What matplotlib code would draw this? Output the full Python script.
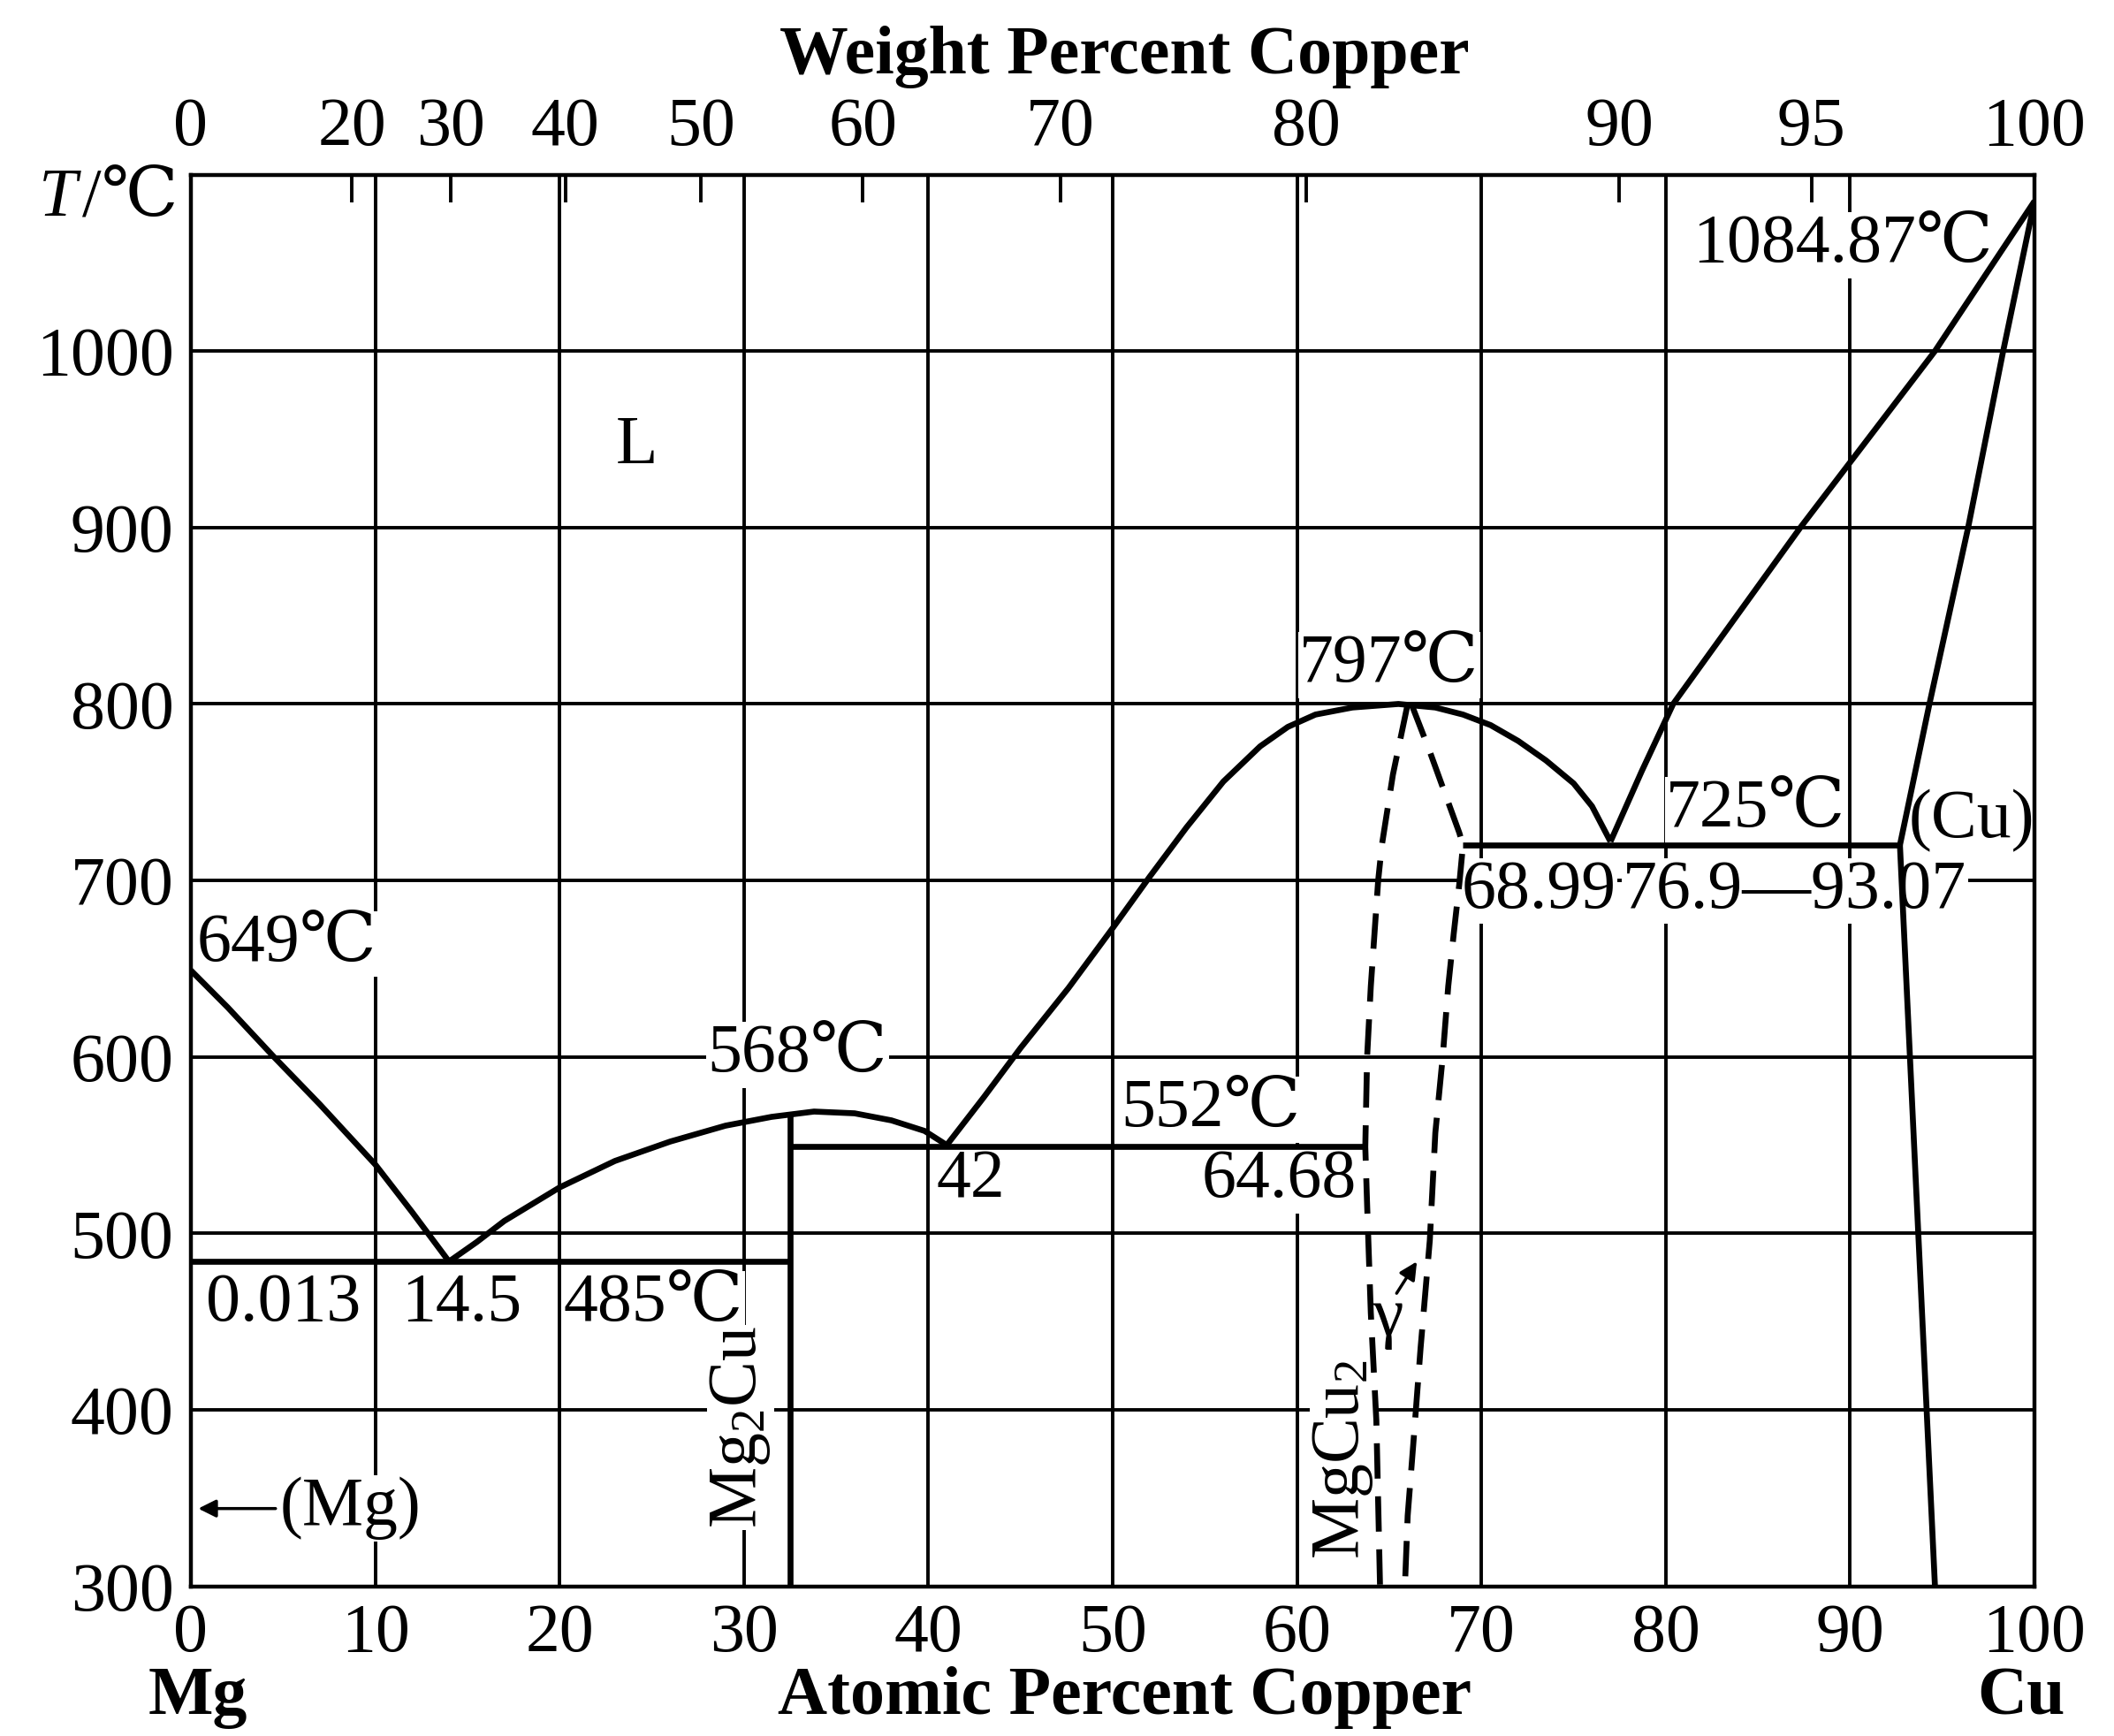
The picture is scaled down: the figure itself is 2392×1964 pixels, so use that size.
import matplotlib
matplotlib.use("Agg")
import matplotlib.pyplot as plt

plt.rcParams['font.family'] = ['Liberation Serif', 'DejaVu Serif', 'Noto Sans CJK SC']
plt.rcParams['mathtext.fontset'] = 'custom'
plt.rcParams['mathtext.rm'] = 'Liberation Serif'
plt.rcParams['mathtext.it'] = 'Liberation Serif:italic'

##### DATA (atomic % Cu, T in C) #####
mg_liq_x = [0, 2, 4.5, 7, 10, 12, 14]
mg_liq_t = [649, 628, 600, 573, 539, 512, 484]

mg2cu_liq_x = [14, 15.5, 17, 20, 23, 26, 29, 31.5, 33.8, 36, 38, 39.8, 41]
mg2cu_liq_t = [484, 495, 507, 526, 541, 552, 561, 566, 569, 568, 564, 558, 550]

mgcu2_liq_x = [41, 43, 45, 47.6, 50, 52, 54, 56, 58, 59.5, 61, 63, 65.5,
               67.5, 69, 70.5, 72, 73.5, 75, 76, 77]
mgcu2_liq_t = [550, 577, 605, 639, 673, 702, 730, 756, 776, 787, 794, 798, 800,
               798, 794, 788, 779, 768, 755, 742, 722]

cu_liq_x = [77, 78.7, 80.4, 87.3, 94.6, 100]
cu_liq_t = [722, 762, 800, 900, 1000, 1085]
cu_sol_x = [100, 98.3, 96.4, 94.3, 92.7]
cu_sol_t = [1085, 1000, 900, 800, 720]
cu_solvus_x = [92.7, 94.6]
cu_solvus_t = [720, 300]

eut1_x = [0, 32.5]
eut1_t = [484, 484]
mg2cu_x = [32.5, 32.5]
mg2cu_t = [567, 300]
eut2_x = [32.5, 63.7]
eut2_t = [549, 549]
eut3_x = [69.0, 92.7]
eut3_t = [720, 720]

mgcu2_left_x = [66.0, 65.6, 65.2, 64.9, 64.6, 64.4, 64.2, 64.0, 63.8, 63.7, 63.8, 64.0, 64.3, 64.5]
mgcu2_left_t = [800, 780, 760, 740, 720, 700, 670, 640, 600, 549, 516, 455, 394, 300]
mgcu2_right_x = [66.2, 67.2, 68.0, 68.8, 69.0, 68.8, 68.5, 68.2, 67.9, 67.5, 67.2, 66.7, 66.3, 66.0, 65.85]
mgcu2_right_t = [800, 773, 750, 727, 720, 698, 670, 640, 600, 557, 496, 435, 380, 340, 300]

bottom_ticks = list(range(0, 101, 10))
left_ticks = list(range(300, 1001, 100))
wt_ticks = [0, 20, 30, 40, 50, 60, 70, 80, 90, 95, 100]

labels = [
    ("649℃", 0.3, 664, 'left'),
    ("568℃", 32.9, 601, 'center'),
    ("552℃", 55.3, 570, 'center'),
    ("797℃", 65.0, 822, 'center'),
    ("725℃", 84.9, 740, 'center'),
    ("(Cu)", 96.6, 734, 'center'),
    ("1084.87℃", 89.6, 1060, 'center'),
    ("0.013", 5.0, 460, 'center'),
    ("14.5", 14.7, 460, 'center'),
    ("485℃", 25.1, 460, 'center'),
    ("42", 42.3, 530, 'center'),
    ("64.68", 59.0, 530, 'center'),
    ("68.99", 73.1, 694, 'center'),
    ("76.9—93.07", 87.0, 694, 'center'),
    ("L", 24.2, 946, 'center'),
]
#######################################

M_MG, M_CU = 24.305, 63.546


def wt_to_at(w):
    a = w / M_CU
    b = (100 - w) / M_MG
    return 100 * a / (a + b)


fig = plt.figure(figsize=(23.92, 19.64), dpi=100)
ax = fig.add_axes([0.0903, 0.0863, 0.8721, 0.8131])
ax.set_xlim(0, 100)
ax.set_ylim(300, 1100)

FS = 56
LW = 4.8
GW = 2.8

ax.set_xticks(bottom_ticks)
ax.set_yticks(left_ticks)
ax.tick_params(length=0, labelsize=FS, pad=14)
ax.grid(True, color='black', lw=GW, zorder=1)
ax.set_axisbelow(True)
for s in ax.spines.values():
    s.set_linewidth(3.2)

solid = dict(color='black', lw=LW, zorder=3, solid_capstyle='butt')
ax.plot(mg_liq_x, mg_liq_t, **solid)
ax.plot(mg2cu_liq_x, mg2cu_liq_t, **solid)
ax.plot(mgcu2_liq_x, mgcu2_liq_t, **solid)
ax.plot(cu_liq_x, cu_liq_t, **solid)
ax.plot(cu_sol_x, cu_sol_t, **solid)
ax.plot(cu_solvus_x, cu_solvus_t, **solid)
ax.plot(eut1_x, eut1_t, **solid)
ax.plot(mg2cu_x, mg2cu_t, **solid)
ax.plot(eut2_x, eut2_t, **solid)
ax.plot(eut3_x, eut3_t, **solid)

dashed = dict(color='black', lw=LW, zorder=3, dashes=(6, 3))
ax.plot(mgcu2_left_x, mgcu2_left_t, **dashed)
ax.plot(mgcu2_right_x, mgcu2_right_t, **dashed)

box = dict(facecolor='white', edgecolor='none', pad=1)
for txt, x, t, ha in labels:
    ax.text(x, t, txt, fontsize=FS, ha=ha, va='center', bbox=box, zorder=2)

ax.text(29.8, 390, "Mg$_\\mathrm{2}$Cu", fontsize=FS, rotation=90,
        ha='center', va='center', bbox=box, zorder=2)
ax.text(62.5, 372, "MgCu$_\\mathrm{2}$", fontsize=FS, rotation=90,
        ha='center', va='center', bbox=box, zorder=2)

ax.annotate("(Mg)", xy=(0.4, 344), xytext=(4.8, 344), fontsize=FS,
            va='center', ha='left', zorder=2, bbox=box,
            arrowprops=dict(arrowstyle='-|>', color='black', lw=2.5,
                            mutation_scale=30, shrinkA=2, shrinkB=0))
ax.text(64.9, 452, "γ", fontsize=FS, ha='center', va='center', zorder=4)
ax.annotate("", xy=(66.5, 484), xytext=(65.4, 466),
            arrowprops=dict(arrowstyle='-|>', color='black', lw=2.5,
                            mutation_scale=30, shrinkA=0, shrinkB=0), zorder=4)

# top axis: weight percent copper
top = ax.twiny()
top.set_xlim(0, 100)
top.set_xticks([wt_to_at(w) for w in wt_ticks])
top.set_xticklabels([str(w) for w in wt_ticks])
top.tick_params(axis='x', direction='in', length=22, width=GW, labelsize=FS, pad=12)
for s in top.spines.values():
    s.set_visible(False)

ax.text(-0.062, 0.983, "T", style='italic', fontsize=FS, ha='right', va='center',
        transform=ax.transAxes)
ax.text(-0.007, 0.983, "/℃", fontsize=FS, ha='right', va='center',
        transform=ax.transAxes)

fig.text(0.532, 0.967, "Weight Percent Copper", fontsize=FS, fontweight='bold',
         ha='center', va='center')
fig.text(0.532, 0.022, "Atomic Percent Copper", fontsize=FS, fontweight='bold',
         ha='center', va='center')
fig.text(0.0935, 0.022, "Mg", fontsize=FS, fontweight='bold', ha='center', va='center')
fig.text(0.956, 0.022, "Cu", fontsize=FS, fontweight='bold', ha='center', va='center')

fig.savefig("out.png", dpi=100, facecolor='white')
